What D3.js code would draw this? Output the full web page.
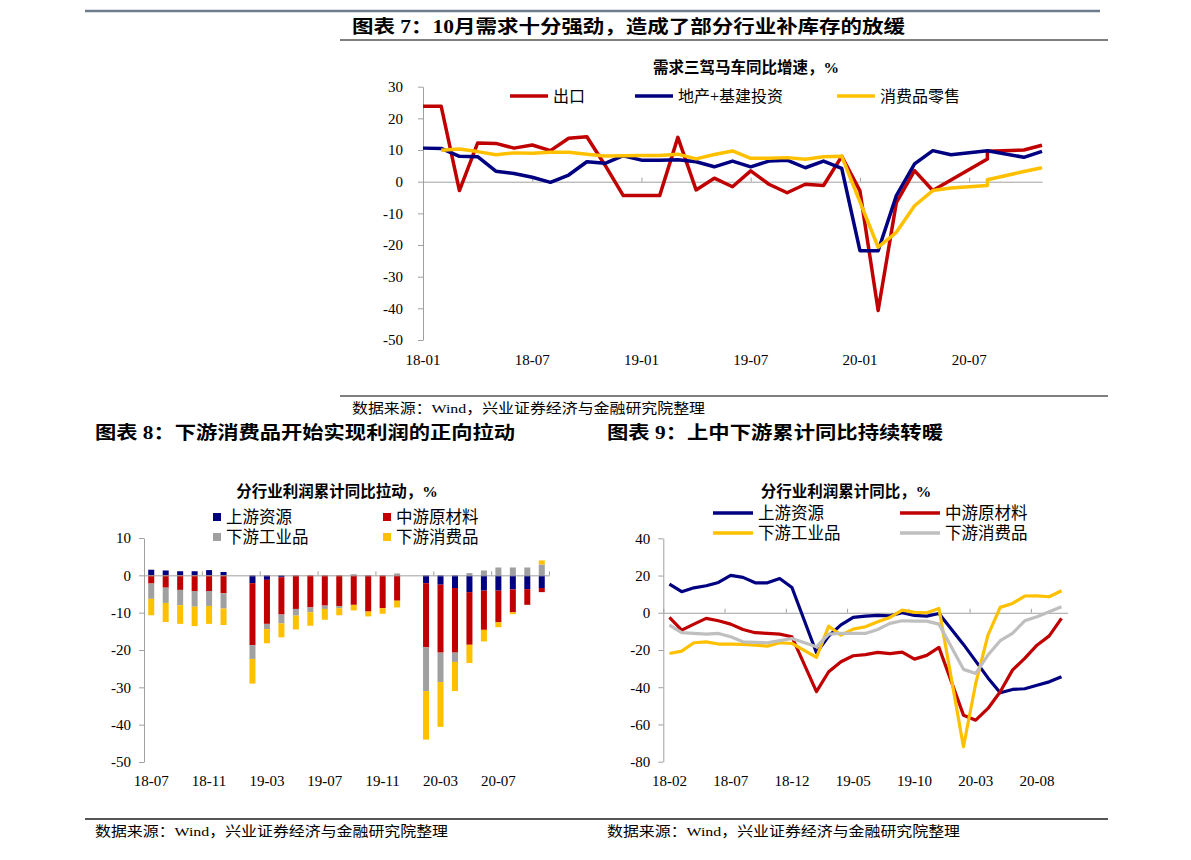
<!DOCTYPE html>
<html>
<head>
  <meta charset="utf-8" />
  <title>需求三驾马车 / 分行业利润</title>
  <script src="https://d3js.org/d3.v7.min.js"></script>
  <style>
    body { margin: 0; background: #fff; }
    svg { display: block; background: #fff; }
    text { font-family: "Liberation Serif", "Noto Sans CJK SC", serif; fill: #000; }
    .cjk { font-family: "Liberation Serif", "Noto Sans CJK SC", sans-serif; }
    .axis path, .axis line { stroke: #a0a0a0; stroke-width: 1; }
    .axis text { font-family: "Liberation Serif", serif; font-size: 15px; }
  </style>
</head>
<body>
<script>
  // ---------- chart 7: 需求三驾马车同比增速 ----------
  const topMonths = [
    "18-01","18-02","18-03","18-04","18-05","18-06","18-07","18-08","18-09","18-10","18-11","18-12",
    "19-01","19-02","19-03","19-04","19-05","19-06","19-07","19-08","19-09","19-10","19-11","19-12",
    "20-01","20-02","20-03","20-04","20-05","20-06","20-08","20-08","20-10","20-11"
  ];
  const exportGrowth = [
    23.8, 23.8, -2.8, 12.2, 12.1, 10.6, 11.6, 9.8, 13.7, 14.2, 5.2, -4.4,
    -4.4, -4.4, 14.0, -2.6, 1.1, -1.6, 3.4, -0.8, -3.5, -0.8, -1.2, 8.0,
    -2.9, -40.7, -6.6, 3.5, -2.8, 0.5, 7.2, 9.6, 10.0, 11.5
  ];
  const investGrowth = [
    10.6, 10.5, 8.0, 7.9, 3.3, 2.6, 1.4, -0.2, 2.1, 6.3, 5.8, 8.2,
    6.8, 6.8, 6.9, 6.3, 4.7, 6.5, 4.7, 6.5, 6.8, 4.4, 6.5, 4.2,
    -21.8, -21.8, -4.4, 5.6, 9.8, 8.5, 9.8, 9.8, 7.7, 9.6
  ];
  const retailGrowth = [
    null, 9.9, 10.3, 9.5, 8.5, 9.1, 9.0, 9.3, 9.3, 8.7, 8.1, 8.2,
    8.3, 8.3, 8.7, 7.2, 8.6, 9.7, 7.4, 7.4, 7.6, 7.1, 7.9, 8.0,
    null, -20.7, -16.0, -7.6, -2.8, -2.0, -1.2, 0.6, 3.2, 4.4
  ];
  const topTicks = ["18-01", "18-07", "19-01", "19-07", "20-01", "20-07"];

  // ---------- chart 8: 分行业利润累计同比拉动 ----------
  const barMonths = [
    "18-07","18-08","18-09","18-10","18-11","18-12","19-01","19-02","19-03","19-04","19-05","19-06","19-07","19-08",
    "19-09","19-10","19-11","19-12","20-01","20-02","20-03","20-04","20-05","20-06","20-07","20-08","20-09","20-10"
  ];
  const upstreamPull = [1.5, 1.3, 1.1, 1.1, 1.4, 0.9, null, -2.1, -1.2, -0.5, 0, 0, 0, 0,
    0, 0, 0, 0, null, -2.1, -2.5, -3.4, -4.5, -4.1, -4.1, -3.8, -3.7, -3.4];
  const midstreamPull = [-2.2, -3.3, -3.9, -4.2, -4.2, -4.8, null, -16.6, -11.8, -10.0, -9.0, -8.6, -8.1, -8.3,
    -7.9, -9.7, -8.8, -6.8, null, -17.2, -18.2, -17.3, -14.1, -10.5, -8.5, -6.1, -4.2, -1.1];
  const downIndPull = [-4.1, -4.1, -4.1, -4.2, -4.0, -4.1, null, -3.7, -1.4, -2.4, -1.8, -1.3, -0.9, -0.5,
    0.3, 0, 0, 0.5, null, -11.7, -7.9, -2.5, 0.6, 1.3, 2.1, 2.1, 2.1, 2.9];
  const downConsPull = [-4.4, -5.1, -5.0, -5.2, -4.8, -4.4, null, -6.6, -3.8, -3.7, -3.7, -3.6, -2.9, -1.9,
    -1.5, -1.3, -1.5, -1.8, null, -13.0, -12.0, -7.8, -4.9, -3.1, -1.3, -0.5, 0, 1.1];
  const barTicks = ["18-07", "18-11", "19-03", "19-07", "19-11", "20-03", "20-07"];

  // ---------- chart 9: 分行业利润累计同比 ----------
  const lineMonths = [
    "18-02","18-03","18-04","18-05","18-06","18-07","18-08","18-09","18-10","18-11","18-12","19-01","19-02",
    "19-03","19-04","19-05","19-06","19-07","19-08","19-09","19-10","19-11","19-12","20-01","20-02","20-03",
    "20-04","20-05","20-06","20-07","20-08","20-09","20-10"
  ];
  const upstreamYoY = [15.4, 11.3, 13.4, 14.5, 16.3, 20.1, 19.0, 16.1, 16.1, 18.4, 13.6, null, -21.5,
    -12.5, -6.5, -2.5, -1.8, -1.4, -1.6, 0, -1.4, -1.8, -0.4, null, -17, -26,
    -35, -43, -41.2, -40.8, -38.9, -37.1, -34.4];
  const midstreamYoY = [-2.5, -9.3, -6.1, -3.0, -4.3, -6.1, -9.0, -10.7, -11.1, -11.5, -12.9, null, -42.4,
    -31.7, -26.3, -23.1, -22.5, -21.3, -21.9, -21.1, -24.9, -22.9, -18.6, null, -55.0, -57.7,
    -51.4, -42.4, -30.8, -24.5, -17.4, -12.4, -3.0];
  const downIndYoY = [-21.9, -20.6, -16.1, -15.6, -16.8, -16.8, -17.0, -17.4, -17.9, -16.1, -16.5, null, -24.0,
    -7.2, -12.0, -8.8, -7.5, -4.8, -2.5, 1.4, 0.2, 0, 2.3, null, -72, -38,
    -12, 2.9, 5.0, 9.0, 9.1, 8.6, 11.8];
  const downConsYoY = [-6.6, -10.7, -11.1, -11.5, -11.1, -12.9, -15.6, -15.9, -16.1, -15.0, -13.8, null, -18.3,
    -11.5, -11.1, -11.1, -11.1, -9.0, -5.7, -4.3, -4.5, -4.5, -6.1, null, -30.4, -32.6,
    -22.7, -15.0, -11.1, -4.3, -2.1, 0.5, 3.2];
  const lineTicks = ["18-02", "18-07", "18-12", "19-05", "19-10", "20-03", "20-08"];

  const NAVY = "#000080", RED = "#C00000", GOLD = "#FFC000";

  const monthIdx = (s, base) => {
    const [y, m] = s.split("-").map(Number);
    const [by, bm] = base.split("-").map(Number);
    return (y - by) * 12 + (m - bm);
  };
  // plain hyphen for negatives, like the source
  const plain = (d) => String(d);

  const svg = d3.select("body").append("svg").attr("width", 1191).attr("height", 860);

  // page furniture
  const rule = (x1, x2, y, color, w) =>
    svg.append("line").attr("x1", x1).attr("x2", x2).attr("y1", y).attr("y2", y)
      .attr("stroke", color).attr("stroke-width", w);
  const label = (x, y, str, size, opts = {}) =>
    svg.append("text").attr("class", "cjk").attr("x", x).attr("y", y)
      .attr("dominant-baseline", "central")
      .attr("text-anchor", opts.anchor || "start")
      .attr("font-size", size)
      .attr("font-weight", opts.bold ? "bold" : "normal")
      .call((t) => opts.len && t.attr("textLength", opts.len).attr("lengthAdjust", "spacingAndGlyphs"))
      .text(str);

  rule(85, 1100, 11, "#6f7c8c", 2.5);
  rule(340, 1108, 40, "#000", 1);
  rule(340, 1108, 396, "#000", 1);
  rule(85, 1108, 819, "#555", 2);

  label(352, 27, "图表 7：10月需求十分强劲，造成了部分行业补库存的放缓", 18, { bold: true, len: 553 });
  label(352, 408, "数据来源：Wind，兴业证券经济与金融研究院整理", 13.5, { len: 353 });
  label(95, 433, "图表 8：下游消费品开始实现利润的正向拉动", 18, { bold: true, len: 420 });
  label(607, 433, "图表 9：上中下游累计同比持续转暖", 18, { bold: true, len: 336 });
  label(95, 831, "数据来源：Wind，兴业证券经济与金融研究院整理", 13.5, { len: 353 });
  label(607, 831, "数据来源：Wind，兴业证券经济与金融研究院整理", 13.5, { len: 353 });

  // ================= chart 7 =================
  const topX = d3.scaleLinear()
    .domain([0, monthIdx(topMonths[topMonths.length - 1], topMonths[0])])
    .range([423, 1042]);
  const topY = d3.scaleLinear().domain([-50, 30]).range([340, 86.7]);

  label(746, 67, "需求三驾马车同比增速，%", 15.5, { anchor: "middle", bold: true });

  svg.append("g").attr("class", "axis").attr("transform", "translate(423,0)")
    .call(d3.axisLeft(topY).tickValues(d3.range(-50, 31, 10)).tickFormat(plain)
      .tickSize(5).tickPadding(15).tickSizeOuter(0));

  svg.append("g").attr("class", "axis").attr("transform", `translate(0,${topY(0)})`)
    .call(d3.axisBottom(topX).tickValues(topTicks.map((t) => monthIdx(t, topMonths[0])))
      .tickSize(-4).tickSizeOuter(0).tickFormat(""));

  svg.append("g").selectAll("text").data(topTicks).join("text")
    .attr("x", (d) => topX(monthIdx(d, topMonths[0])))
    .attr("y", 360)
    .attr("text-anchor", "middle")
    .attr("dominant-baseline", "central")
    .attr("font-size", 15)
    .text((d) => d);

  const topSeries = [
    { name: "出口", values: exportGrowth, color: RED },
    { name: "地产+基建投资", values: investGrowth, color: NAVY },
    { name: "消费品零售", values: retailGrowth, color: GOLD },
  ];
  const topLine = d3.line().x((d) => topX(d.x)).y((d) => topY(d.v));

  topSeries.forEach((s) => {
    const pts = topMonths
      .map((m, i) => ({ x: monthIdx(m, topMonths[0]), v: s.values[i] }))
      .filter((d) => d.v != null);
    svg.append("path").datum(pts)
      .attr("d", topLine)
      .attr("fill", "none")
      .attr("stroke", s.color)
      .attr("stroke-width", 3.5)
      .attr("stroke-linejoin", "round");
  });

  const topLegendX = [510, 635, 837];
  topSeries.forEach((s, i) => {
    const x = topLegendX[i];
    svg.append("line").attr("x1", x).attr("x2", x + 38).attr("y1", 96).attr("y2", 96)
      .attr("stroke", s.color).attr("stroke-width", 3.5);
    label(x + 43, 96, s.name, 16);
  });

  // ================= chart 8 (stacked bars) =================
  const barX = d3.scaleBand().domain(barMonths).range([144, 549])
    .paddingInner(0.585).paddingOuter(0.2925);
  const barIdx = d3.scaleLinear().domain([0, barMonths.length]).range(barX.range());
  const barY = d3.scaleLinear().domain([-50, 10]).range([762, 538]);

  label(337, 491, "分行业利润累计同比拉动，%", 15.5, { anchor: "middle", bold: true });

  const barSeries = [
    { name: "上游资源", values: upstreamPull, color: NAVY },
    { name: "中游原材料", values: midstreamPull, color: RED },
    { name: "下游工业品", values: downIndPull, color: "#A0A0A0" },
    { name: "下游消费品", values: downConsPull, color: GOLD },
  ];

  const segs = [];
  barMonths.forEach((m, i) => {
    let pos = 0, neg = 0;
    barSeries.forEach((s) => {
      const v = s.values[i];
      if (v == null || v === 0) return;
      if (v > 0) { segs.push({ m, y0: pos, y1: pos + v, color: s.color }); pos += v; }
      else { segs.push({ m, y0: neg, y1: neg + v, color: s.color }); neg += v; }
    });
  });

  svg.append("g").selectAll("rect").data(segs).join("rect")
    .attr("x", (d) => barX(d.m))
    .attr("width", barX.bandwidth())
    .attr("y", (d) => barY(Math.max(d.y0, d.y1)))
    .attr("height", (d) => Math.abs(barY(d.y0) - barY(d.y1)))
    .attr("fill", (d) => d.color);

  svg.append("g").attr("class", "axis").attr("transform", "translate(144,0)")
    .call(d3.axisLeft(barY).tickValues(d3.range(-50, 11, 10)).tickFormat(plain)
      .tickSize(5).tickPadding(8).tickSizeOuter(0));

  svg.append("g").attr("class", "axis").attr("transform", `translate(0,${barY(0)})`)
    .call(d3.axisBottom(barIdx).tickValues(d3.range(0, barMonths.length + 1, 4))
      .tickSize(-4).tickSizeOuter(0).tickFormat(""));

  svg.append("g").selectAll("text").data(barTicks).join("text")
    .attr("x", (d) => barX(d) + barX.bandwidth() / 2)
    .attr("y", 781)
    .attr("text-anchor", "middle")
    .attr("dominant-baseline", "central")
    .attr("font-size", 15)
    .text((d) => d);

  const barLegend = [[213, 517], [383, 517], [213, 537], [383, 537]];
  barSeries.forEach((s, i) => {
    const [x, y] = barLegend[i];
    svg.append("rect").attr("x", x).attr("y", y - 4).attr("width", 8).attr("height", 8).attr("fill", s.color);
    label(x + 13, y, s.name, 16.5);
  });

  // ================= chart 9 (lines) =================
  const lineX = d3.scaleLinear().domain([0, lineMonths.length]).range([663.3, 1067.6]);
  const lineY = d3.scaleLinear().domain([-80, 40]).range([761.7, 538.3]);

  label(846, 491, "分行业利润累计同比，%", 15.5, { anchor: "middle", bold: true });

  svg.append("g").attr("class", "axis").attr("transform", "translate(663.3,0)")
    .call(d3.axisLeft(lineY).tickValues(d3.range(-80, 41, 20)).tickFormat(plain)
      .tickSize(5).tickPadding(8).tickSizeOuter(0));

  svg.append("g").attr("class", "axis").attr("transform", `translate(0,${lineY(0)})`)
    .call(d3.axisBottom(lineX).tickValues(d3.range(0, lineMonths.length, 5))
      .tickSize(-4).tickSizeOuter(0).tickFormat(""));

  svg.append("g").selectAll("text").data(lineTicks).join("text")
    .attr("x", (d) => lineX(lineMonths.indexOf(d) + 0.5))
    .attr("y", 781)
    .attr("text-anchor", "middle")
    .attr("dominant-baseline", "central")
    .attr("font-size", 15)
    .text((d) => d);

  const lineSeries = [
    { name: "上游资源", values: upstreamYoY, color: NAVY },
    { name: "中游原材料", values: midstreamYoY, color: RED },
    { name: "下游工业品", values: downIndYoY, color: GOLD },
    { name: "下游消费品", values: downConsYoY, color: "#BFBFBF" },
  ];
  const profitLine = d3.line().x((d) => lineX(d.i + 0.5)).y((d) => lineY(d.v));

  lineSeries.forEach((s) => {
    const pts = s.values.map((v, i) => ({ i, v })).filter((d) => d.v != null);
    svg.append("path").datum(pts)
      .attr("d", profitLine)
      .attr("fill", "none")
      .attr("stroke", s.color)
      .attr("stroke-width", 3.2)
      .attr("stroke-linejoin", "round");
  });

  const lineLegend = [[713, 513], [900, 513], [713, 533], [900, 533]];
  lineSeries.forEach((s, i) => {
    const [x, y] = lineLegend[i];
    svg.append("line").attr("x1", x).attr("x2", x + 40).attr("y1", y).attr("y2", y)
      .attr("stroke", s.color).attr("stroke-width", 3.5);
    label(x + 45, y, s.name, 16.5);
  });
</script>
</body>
</html>
